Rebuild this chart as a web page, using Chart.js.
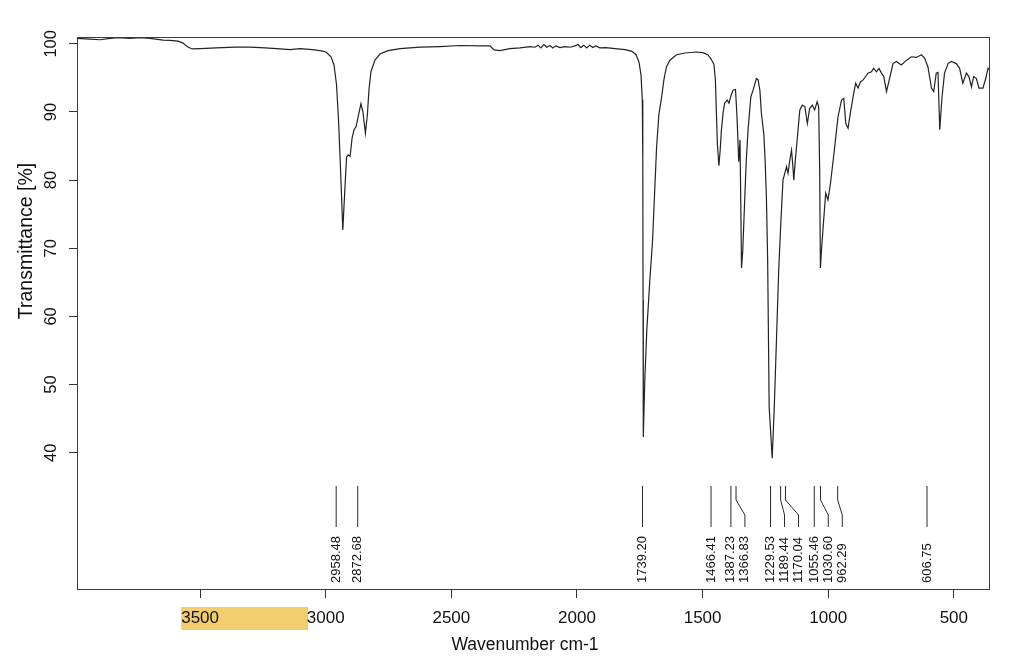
<!DOCTYPE html>
<html>
<head>
<meta charset="utf-8">
<title>IR spectrum</title>
<script src="https://cdn.jsdelivr.net/npm/chart.js@4.4.0/dist/chart.umd.min.js"></script>
<style>
  html, body { margin: 0; padding: 0; background: #fff; }
  #wrap { width: 1024px; height: 662px; position: relative; }
</style>
</head>
<body>
<div id="wrap"><canvas id="irChart" width="1024" height="662"></canvas></div>
<script>
// Spectrum: wavenumber (cm-1) and transmittance (%)
const wavenumbers = [
  3990, 3938, 3898, 3858, 3830, 3810, 3779, 3739, 3699, 3647, 3619, 3588, 3568, 3552, 3532, 3500,
  3436, 3361, 3301, 3241, 3182, 3142, 3102, 3054, 3023, 2999, 2979, 2967, 2957, 2949, 2941, 2932,
  2925, 2917, 2911, 2903, 2895, 2887, 2879, 2872, 2860, 2852, 2842, 2834, 2828, 2820, 2804, 2784,
  2752, 2704, 2625, 2545, 2466, 2386, 2346, 2330, 2307, 2267, 2227, 2187, 2167, 2155, 2144, 2132,
  2120, 2108, 2096, 2084, 2068, 2048, 2028, 2008, 1996, 1985, 1973, 1961, 1949, 1937, 1925, 1909,
  1885, 1849, 1809, 1781, 1765, 1753, 1745, 1740, 1738, 1737, 1736, 1730, 1722, 1710, 1699, 1683,
  1674, 1663, 1654, 1644, 1630, 1604, 1571, 1524, 1499, 1479, 1467, 1455, 1449, 1445, 1441, 1435,
  1430, 1425, 1418, 1412, 1402, 1395, 1386, 1379, 1369, 1363, 1356, 1351, 1345, 1340, 1332, 1326,
  1319, 1308, 1299, 1286, 1279, 1272, 1266, 1256, 1251, 1246, 1241, 1235, 1223, 1215, 1206, 1197,
  1189, 1180, 1166, 1160, 1153, 1146, 1141, 1137, 1131, 1126, 1113, 1103, 1093, 1083, 1074, 1063,
  1054, 1044, 1038, 1034, 1031, 1028, 1021, 1010, 1001, 991, 974, 961, 947, 938, 930, 921,
  912, 901, 891, 881, 872, 861, 851, 842, 828, 819, 808, 798, 788, 779, 768, 754,
  742, 729, 709, 688, 669, 649, 629, 616, 603, 589, 580, 570, 563, 556, 547, 537,
  523, 510, 490, 477, 464, 450, 440, 430, 421, 410, 400, 384, 371, 364, 360
];
const transmittance = [
  100.8, 100.7, 100.6, 100.8, 100.9, 100.85, 100.8, 100.9, 100.8, 100.55, 100.5, 100.4, 100.1, 99.6, 99.25, 99.3,
  99.4, 99.5, 99.5, 99.4, 99.25, 99.15, 99.3, 99.15, 99.0, 98.8, 98.1, 96.9, 94.0, 88.8, 81.5, 72.7,
  77.8, 83.4, 83.7, 83.5, 86.2, 87.4, 87.9, 89.1, 91.2, 90.0, 86.9, 89.7, 93.2, 95.9, 97.6, 98.5,
  99.0, 99.3, 99.5, 99.6, 99.75, 99.7, 99.7, 99.1, 99.0, 99.3, 99.4, 99.6, 99.5, 99.8, 99.4, 99.9,
  99.5, 99.75, 99.4, 99.7, 99.45, 99.6, 99.5, 99.7, 99.9, 99.45, 99.8, 99.4, 99.8, 99.45, 99.7, 99.4,
  99.45, 99.3, 99.15, 98.9, 98.4, 97.3, 95.4, 91.8, 82.9, 62.4, 42.3, 50.7, 58.0, 65.3, 71.2, 84.9,
  89.6, 92.2, 94.7, 96.6, 97.6, 98.4, 98.65, 98.8, 98.7, 98.4, 97.8, 97.0, 94.7, 89.8, 85.2, 82.1,
  84.4, 87.4, 90.0, 91.3, 91.75, 91.3, 92.5, 93.2, 93.3, 89.3, 82.7, 85.9, 67.1, 69.7, 77.5, 82.95,
  87.4, 92.2, 93.2, 94.9, 94.7, 93.2, 89.85, 86.6, 82.9, 77.5, 68.3, 46.7, 39.2, 46.3, 56.5, 66.8,
  73.4, 80.0, 81.95, 81.0, 82.9, 84.4, 82.2, 80.0, 82.9, 84.9, 90.3, 91.0, 90.8, 88.3, 90.5, 91.0,
  90.3, 91.5, 90.8, 81.5, 67.1, 69.0, 72.7, 78.1, 77.1, 79.5, 84.9, 89.3, 91.75, 92.0, 88.3, 87.6,
  89.8, 92.2, 94.2, 93.5, 94.4, 94.7, 95.2, 95.7, 95.9, 96.4, 95.9, 96.4, 95.7, 95.2, 93.0, 95.2,
  97.1, 97.4, 96.9, 97.6, 98.1, 98.0, 98.4, 97.9, 96.6, 93.5, 93.0, 95.7, 95.8, 87.4, 92.2, 95.7,
  97.1, 97.4, 97.1, 96.4, 94.2, 95.7, 95.2, 93.7, 95.2, 94.9, 93.5, 93.5, 95.2, 96.4, 96.2
];

// Annotated peaks (cm-1)
const peakPositions = [2958.48, 2872.68, 1739.20, 1466.41, 1387.23, 1366.83, 1229.53,
                       1189.44, 1170.04, 1055.46, 1030.60, 962.29, 606.75];

const xTickValues = [3500, 3000, 2500, 2000, 1500, 1000, 500];
const yTickValues = [40, 50, 60, 70, 80, 90, 100];

const FONT = '"Liberation Sans", Arial, Helvetica, sans-serif';

// draws the box, tick labels, titles, highlight and peak annotations
const decorations = {
  id: 'decorations',
  beforeDraw(chart) {
    const ctx = chart.ctx;
    const xs = chart.scales.x;
    // yellow marker behind the 3500 label
    const hx = xs.getPixelForValue(3500);
    ctx.save();
    ctx.fillStyle = '#f2cd6e';
    ctx.fillRect(hx - 19, 607, 127, 23);
    ctx.restore();
  },
  afterDraw(chart) {
    const ctx = chart.ctx;
    const a = chart.chartArea;
    const xs = chart.scales.x;
    const ys = chart.scales.y;
    ctx.save();

    // plot box
    ctx.strokeStyle = '#3a3a3a';
    ctx.lineWidth = 1;
    ctx.strokeRect(a.left + 0.5, a.top + 0.5, a.right - a.left, a.bottom - a.top);

    ctx.fillStyle = '#111';

    // x tick labels
    ctx.font = '17px ' + FONT;
    ctx.textAlign = 'center';
    ctx.textBaseline = 'middle';
    xTickValues.forEach(v => {
      ctx.fillText(String(v), xs.getPixelForValue(v), 618);
    });

    // y tick labels, rotated like R
    ctx.font = '16.5px ' + FONT;
    yTickValues.forEach(v => {
      ctx.save();
      ctx.translate(51, ys.getPixelForValue(v));
      ctx.rotate(-Math.PI / 2);
      ctx.fillText(String(v), 0, 0);
      ctx.restore();
    });

    // axis titles
    ctx.font = '17.5px ' + FONT;
    ctx.fillText('Wavenumber cm-1', 525, 645);
    ctx.font = '19.5px ' + FONT;
    ctx.save();
    ctx.translate(27, 241);
    ctx.rotate(-Math.PI / 2);
    ctx.fillText('Transmittance [%]', 0, 0);
    ctx.restore();

    // peak annotations
    ctx.strokeStyle = '#2a2a2a';
    ctx.font = '13px ' + FONT;
    ctx.textAlign = 'left';
    let prev = -Infinity;
    peakPositions.forEach(p => {
      const px = xs.getPixelForValue(p);
      const tx = Math.max(px, prev + 14);
      prev = tx;
      ctx.beginPath();
      ctx.moveTo(px, 486);
      ctx.lineTo(px, 500);
      ctx.lineTo(tx, 515);
      ctx.lineTo(tx, 527);
      ctx.stroke();
      ctx.save();
      ctx.translate(tx, 583);
      ctx.rotate(-Math.PI / 2);
      ctx.fillText(p.toFixed(2), 0, 0);
      ctx.restore();
    });

    ctx.restore();
  }
};

const points = wavenumbers.map((w, i) => ({ x: w, y: transmittance[i] }));

const ctx = document.getElementById('irChart').getContext('2d');
new Chart(ctx, {
  type: 'line',
  data: {
    datasets: [{
      data: points,
      borderColor: '#222',
      borderWidth: 1.2,
      pointRadius: 0,
      tension: 0,
      fill: false
    }]
  },
  options: {
    responsive: false,
    animation: false,
    layout: { padding: { left: 0, top: 37, right: 35, bottom: 0 } },
    plugins: {
      legend: { display: false },
      tooltip: { enabled: false }
    },
    scales: {
      x: {
        type: 'linear',
        reverse: true,
        min: 360,
        max: 3990,
        afterBuildTicks: s => { s.ticks = xTickValues.map(v => ({ value: v })); },
        afterFit: s => { s.height = 73; },
        ticks: { display: false },
        grid: { drawOnChartArea: false, drawTicks: true, tickLength: 9, color: '#333', lineWidth: 1 },
        border: { display: false }
      },
      y: {
        type: 'linear',
        min: 20,
        max: 101,
        afterBuildTicks: s => { s.ticks = yTickValues.map(v => ({ value: v })); },
        afterFit: s => { s.width = 77; },
        ticks: { display: false },
        grid: { drawOnChartArea: false, drawTicks: true, tickLength: 8, color: '#333', lineWidth: 1 },
        border: { display: false }
      }
    }
  },
  plugins: [decorations]
});
</script>
</body>
</html>
